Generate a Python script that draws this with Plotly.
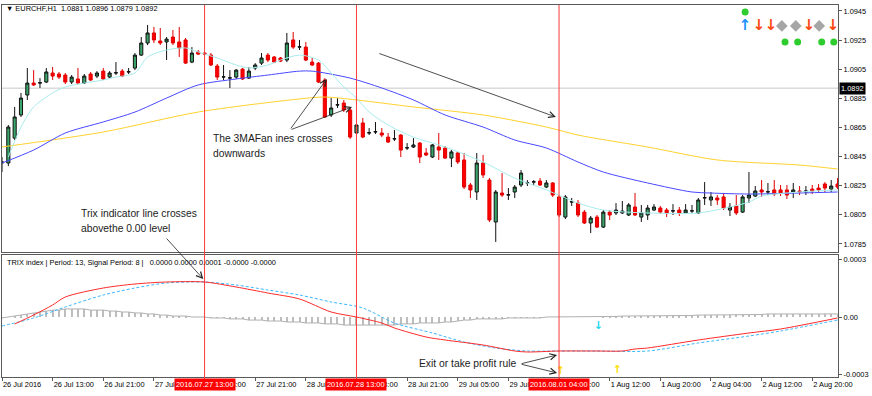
import plotly.graph_objects as go

# ---------------- data ----------------
bar_index = list(range(133))

opens = [1.08406,1.08406,1.08577,1.08736,1.08873,1.08955,1.08955,1.08962,1.09024,1.09017,
         1.09010,1.08962,1.08983,1.08955,1.09017,1.09003,1.09037,1.08996,1.09024,1.09037,
         1.09031,1.09058,1.09147,1.09230,1.09299,1.09244,1.09237,1.09271,1.09237,1.09251,
         1.09099,1.09168,1.09161,1.09147,1.09072,1.08996,1.08989,1.08996,1.09051,1.08989,
         1.09058,1.09092,1.09147,1.09134,1.09127,1.09113,1.09251,1.09202,1.09202,1.09099,
         1.09092,1.08976,1.08736,1.08804,1.08818,1.08770,1.08612,1.08681,1.08612,1.08619,
         1.08612,1.08584,1.08571,1.08598,1.08509,1.08516,1.08543,1.08475,1.08447,1.08516,
         1.08509,1.08440,1.08475,1.08427,1.08255,1.08207,1.08406,1.08289,1.08001,1.08200,
         1.08186,1.08207,1.08255,1.08269,1.08275,1.08282,1.08241,1.08269,1.08173,1.08035,
         1.08138,1.08131,1.08069,1.07994,1.08035,1.07966,1.08069,1.08063,1.08063,1.08049,
         1.08104,1.08035,1.08049,1.08083,1.08097,1.08083,1.08076,1.08083,1.08063,1.08076,
         1.08063,1.08166,1.08152,1.08166,1.08173,1.08083,1.08111,1.08069,1.08166,1.08179,
         1.08221,1.08207,1.08221,1.08221,1.08221,1.08207,1.08214,1.08207,1.08227,1.08234,
         1.08262,1.08227,1.08262]
highs = [1.08447,1.08667,1.08791,1.08887,1.09058,1.09044,1.08989,1.09058,1.09065,1.09031,
         1.09024,1.09010,1.09058,1.09017,1.09031,1.09037,1.09058,1.09037,1.09099,1.09051,
         1.09058,1.09161,1.09271,1.09354,1.09340,1.09333,1.09271,1.09319,1.09340,1.09264,
         1.09202,1.09182,1.09168,1.09161,1.09086,1.09079,1.09044,1.09051,1.09058,1.09065,
         1.09092,1.09161,1.09161,1.09141,1.09134,1.09299,1.09306,1.09251,1.09237,1.09127,
         1.09099,1.08989,1.08852,1.08852,1.08839,1.08784,1.08674,1.08715,1.08646,1.08688,
         1.08646,1.08612,1.08633,1.08605,1.08543,1.08577,1.08550,1.08509,1.08536,1.08612,
         1.08523,1.08495,1.08482,1.08475,1.08269,1.08475,1.08461,1.08303,1.08221,1.08337,
         1.08234,1.08255,1.08358,1.08289,1.08289,1.08303,1.08289,1.08275,1.08186,1.08186,
         1.08166,1.08152,1.08083,1.08042,1.08049,1.08083,1.08083,1.08131,1.08145,1.08131,
         1.08200,1.08118,1.08118,1.08124,1.08111,1.08097,1.08124,1.08104,1.08124,1.08118,
         1.08166,1.08275,1.08207,1.08186,1.08200,1.08131,1.08186,1.08186,1.08344,1.08248,
         1.08289,1.08269,1.08289,1.08255,1.08255,1.08269,1.08248,1.08248,1.08255,1.08262,
         1.08275,1.08289,1.08303]
lows = [1.08344,1.08385,1.08564,1.08722,1.08839,1.08935,1.08921,1.08955,1.08976,1.08983,
        1.08948,1.08948,1.08948,1.08948,1.08969,1.08989,1.08976,1.08989,1.09010,1.08996,
        1.09017,1.09044,1.09141,1.09216,1.09230,1.09216,1.09113,1.09216,1.09134,1.09086,
        1.09092,1.09147,1.09147,1.09072,1.08976,1.08976,1.08921,1.08983,1.08976,1.08983,
        1.09044,1.09079,1.09099,1.09092,1.09099,1.09099,1.09189,1.09182,1.09106,1.09072,
        1.08955,1.08715,1.08722,1.08784,1.08756,1.08571,1.08605,1.08577,1.08598,1.08605,
        1.08584,1.08543,1.08557,1.08447,1.08495,1.08509,1.08406,1.08454,1.08440,1.08427,
        1.08434,1.08378,1.08399,1.08227,1.08166,1.08152,1.08303,1.08001,1.07864,1.08173,
        1.08152,1.08166,1.08241,1.08248,1.08255,1.08248,1.08234,1.08173,1.08035,1.08021,
        1.08111,1.08035,1.07987,1.07925,1.07960,1.07960,1.08015,1.08049,1.08056,1.08042,
        1.08042,1.08001,1.08015,1.08076,1.08056,1.08035,1.08049,1.08042,1.08056,1.08063,
        1.08056,1.08118,1.08111,1.08118,1.08083,1.08042,1.08049,1.08063,1.08131,1.08173,
        1.08173,1.08186,1.08179,1.08179,1.08159,1.08166,1.08186,1.08186,1.08193,1.08200,
        1.08207,1.08207,1.08227]
closes = [1.08413,1.08653,1.08722,1.08852,1.08955,1.08942,1.08957,1.09031,1.09003,1.08996,
          1.08962,1.08996,1.08955,1.09003,1.08976,1.09024,1.08983,1.09024,1.09026,1.09003,
          1.09033,1.09147,1.09230,1.09299,1.09251,1.09230,1.09257,1.09230,1.09196,1.09092,
          1.09161,1.09154,1.09154,1.09079,1.08996,1.08998,1.08991,1.09044,1.08983,1.09037,
          1.09079,1.09127,1.09113,1.09099,1.09106,1.09230,1.09202,1.09204,1.09113,1.09079,
          1.08962,1.08722,1.08784,1.08806,1.08770,1.08584,1.08667,1.08584,1.08614,1.08621,
          1.08598,1.08550,1.08573,1.08495,1.08511,1.08530,1.08447,1.08461,1.08530,1.08495,
          1.08440,1.08482,1.08413,1.08241,1.08221,1.08406,1.08324,1.08015,1.08207,1.08186,
          1.08188,1.08241,1.08337,1.08271,1.08277,1.08255,1.08269,1.08186,1.08049,1.08173,
          1.08140,1.08049,1.07994,1.08028,1.07966,1.08069,1.08049,1.08083,1.08076,1.08118,
          1.08049,1.08063,1.08097,1.08104,1.08069,1.08063,1.08078,1.08063,1.08083,1.08078,
          1.08152,1.08168,1.08173,1.08152,1.08097,1.08104,1.08063,1.08173,1.08186,1.08214,
          1.08207,1.08209,1.08193,1.08200,1.08186,1.08221,1.08207,1.08214,1.08214,1.08221,
          1.08234,1.08248,1.08241]

# moving averages (read at sample bars)
fast_ma_bars = [1,3,5,8,10,13,16,18,21,23,26,29,31,34,37,39,42,44,47,50,52,54,56,58,61,65,70,76,81,86,91,95,102,110,115,118,120,126,132]
fast_ma = [1.08447,1.08653,1.08791,1.08887,1.08928,1.08955,1.08976,1.08996,1.09024,1.09134,1.09182,1.09196,1.09168,
           1.09127,1.09079,1.09058,1.09079,1.09113,1.09147,1.09113,1.09024,1.08928,1.08852,1.08756,1.08667,1.08584,
           1.08516,1.08413,1.08303,1.08221,1.08131,1.08083,1.08063,1.08063,1.08104,1.08138,1.08179,1.08207,1.08221]
mid_ma_bars = [0,5,10,16,21,26,31,37,42,47,49,55,60,65,70,76,81,86,91,95,102,109,112,118,126,132]
mid_ma = [1.08406,1.08495,1.08612,1.08688,1.08756,1.08852,1.08942,1.08983,1.09010,1.09037,1.09037,1.08989,1.08921,
          1.08839,1.08736,1.08653,1.08564,1.08509,1.08413,1.08344,1.08269,1.08207,1.08200,1.08193,1.08200,1.08207]
slow_ma_bars = [0,16,31,47,51,56,65,76,86,91,102,113,126,132]
slow_ma = [1.08516,1.08619,1.08756,1.08846,1.08859,1.08839,1.08791,1.08736,1.08653,1.08598,1.08516,1.08427,1.08392,1.08365]
current_price = 1.0892

# TRIX panel
trix_bars = [2,5,8,10,16,21,26,32,37,42,47,52,56,60,62,67,70,76,81,83,88,94,98,100,102,110,118,123,132]
trix_vals = [-0.0000365,0.0000104,0.0000626,0.0001043,0.0001513,0.0001722,0.0001826,0.0001826,0.0001565,0.0001252,
             0.0000939,0.0000261,0.0,-0.0000313,-0.0000574,-0.0001043,-0.0001200,-0.0001461,-0.0001774,-0.0001826,
             -0.0001774,-0.0001774,-0.0001774,-0.0001669,-0.0001617,-0.0001200,-0.0000835,-0.0000626,-0.0000052]
signal_bars = [0,5,10,16,21,26,32,37,42,47,52,57,62,68,73,78,83,88,94,102,110,118,123,132]
signal_vals = [-0.0000470,-0.0000052,0.0000522,0.0001148,0.0001513,0.0001774,0.0001826,0.0001669,0.0001409,0.0001148,
               0.0000783,0.0000470,-0.0000313,-0.0000835,-0.0001304,-0.0001617,-0.0001774,-0.0001774,-0.0001774,
               -0.0001774,-0.0001356,-0.0000991,-0.0000730,-0.0000157]
hist_e5 = [-0.5,0,0.5,1.0,1.6,2.1,2.6,3.1,3.6,3.6,
           4.2,4.2,4.2,4.2,3.6,3.6,3.6,3.1,3.1,2.6,
           2.6,2.1,2.1,1.6,1.6,1.0,1.0,0.5,0.5,0.5,
           0,0,0,-0.5,-0.5,-0.5,-1.0,-1.0,-1.0,-1.6,
           -1.6,-1.6,-2.1,-2.1,-2.1,-2.6,-2.6,-2.6,-3.1,-3.1,
           -3.1,-3.6,-3.6,-3.6,-4.2,-4.2,-4.2,-4.2,-4.2,-4.2,
           -4.2,-4.2,-4.2,-3.6,-3.6,-3.6,-3.1,-3.1,-3.1,-3.1,
           -2.6,-2.6,-2.1,-1.6,-1.6,-1.0,-1.0,-1.0,-1.0,-1.0,
           -0.5,-0.5,-0.5,-0.5,-0.5,-0.5,0,0,0,0,
           0,0,0,0,0,0.3,0.3,0.3,0.5,0.5,
           0.5,0.5,0.5,0.5,0.5,0.5,0.8,0.8,0.8,0.8,
           1.0,1.0,1.0,1.0,1.0,1.0,1.3,1.3,1.3,1.3,
           1.3,1.6,1.6,1.6,1.6,1.6,1.6,1.6,1.6,1.6,
           1.6,1.6,1.6]

# signal icons (top right)
dot_bars = [117.4,123.7,125.7,129.5,131.4]
dot_prices = [1.09443,1.09237,1.09237,1.09237,1.09237]
up_bars = [117.4]; up_prices = [1.09347]
down_bars = [119.6,121.5,127.5,131.3]; down_prices = [1.09347]*4
diamond_bars = [123.2,125.4,129.1]; diamond_prices = [1.09347]*3
trix_down_bars = [94.2]; trix_down_vals = [-0.000047]
trix_up_bars = [88.2,97.2]; trix_up_vals = [-0.000282,-0.000276]

# axis labels
tick_bars = [0,8,16,24,32,40,48,56,64,72,80,88,96,104,112,120,128]
tick_text = ["26 Jul 2016","26 Jul 13:00","26 Jul 21:00","27 Jul 05:00","27 Jul 13:00","27 Jul 21:00",
             "28 Jul 05:00","28 Jul 13:00","28 Jul 21:00","29 Jul 05:00","29 Jul 13:00","1 Aug 04:00",
             "1 Aug 12:00","1 Aug 20:00","2 Aug 04:00","2 Aug 12:00","2 Aug 20:00"]
event_bars = [32,56,88]
event_text = ["2016.07.27 13:00","2016.07.28 13:00","2016.08.01 04:00"]
trix_tickvals = [0.0003,0.0,-0.0003]
trix_ticktext = ["0.0003","0.00","-0.0003"]

# ---------------- figure ----------------
W, H = 872, 396
L, R, T, B = 2, 838, 5, 377
def fx(px): return (px - L) / (R - L)
def fy(py): return (B - py) / (B - T)

XR = [0, 132.07]
FONT = "Liberation Sans"
AX = "#5a5a5a"

fig = go.Figure()
fig.add_trace(go.Candlestick(
    x=bar_index, open=opens, high=highs, low=lows, close=closes,
    xaxis="x", yaxis="y", whiskerwidth=0,
    increasing=dict(line=dict(color="#111111", width=1), fillcolor="#3aa56a"),
    decreasing=dict(line=dict(color="#e00000", width=1), fillcolor="#ff0000"),
    hoverinfo="skip", showlegend=False))
for bx, vy, col in [(slow_ma_bars, slow_ma, "#ffd22e"), (mid_ma_bars, mid_ma, "#4848ff"),
                    (fast_ma_bars, fast_ma, "#a8ecec")]:
    fig.add_trace(go.Scatter(x=bx, y=vy, mode="lines", xaxis="x", yaxis="y",
                             line=dict(color=col, width=1, shape="spline", smoothing=0.8),
                             hoverinfo="skip", showlegend=False))
fig.add_trace(go.Scatter(x=dot_bars, y=dot_prices, mode="markers", xaxis="x", yaxis="y",
                         marker=dict(symbol="circle", size=7, color="#2ecc2e"), showlegend=False))
fig.add_trace(go.Scatter(x=diamond_bars, y=diamond_prices, mode="markers", xaxis="x", yaxis="y",
                         marker=dict(symbol="diamond", size=9, color="#a6a6a6"), showlegend=False))
fig.add_trace(go.Scatter(x=up_bars, y=up_prices, mode="text", text=["↑"] * len(up_bars), xaxis="x", yaxis="y",
                         textfont=dict(family="DejaVu Sans", size=15, weight="bold", color="#1e90ff"),
                         showlegend=False))
fig.add_trace(go.Scatter(x=down_bars, y=down_prices, mode="text", text=["↓"] * len(down_bars), xaxis="x", yaxis="y",
                         textfont=dict(family="DejaVu Sans", size=15, weight="bold", color="#ff4a14"),
                         showlegend=False))

# TRIX panel
fig.add_trace(go.Bar(x=bar_index, y=[v * 1e-5 for v in hist_e5], width=0.16, xaxis="x2", yaxis="y2",
                     marker=dict(color="#bdbdbd", line=dict(width=0)), hoverinfo="skip", showlegend=False))
fig.add_trace(go.Scatter(x=bar_index, y=[v * 1e-5 for v in hist_e5], mode="lines", xaxis="x2", yaxis="y2",
                         line=dict(color="#b0b0b0", width=1), hoverinfo="skip", showlegend=False))
fig.add_trace(go.Scatter(x=signal_bars, y=signal_vals, mode="lines", xaxis="x2", yaxis="y2",
                         line=dict(color="#3bb8ff", width=1, dash="3px,2px", shape="spline", smoothing=0.8),
                         hoverinfo="skip", showlegend=False))
fig.add_trace(go.Scatter(x=trix_bars, y=trix_vals, mode="lines", xaxis="x2", yaxis="y2",
                         line=dict(color="#ff2a2a", width=1, shape="spline", smoothing=0.8),
                         hoverinfo="skip", showlegend=False))
fig.add_trace(go.Scatter(x=trix_down_bars, y=trix_down_vals, mode="text", text=["↓"], xaxis="x2", yaxis="y2",
                         textfont=dict(family="DejaVu Sans", size=11, weight="bold", color="#22d8ee"),
                         showlegend=False))
fig.add_trace(go.Scatter(x=trix_up_bars, y=trix_up_vals, mode="text", text=["↑"] * 2, xaxis="x2", yaxis="y2",
                         textfont=dict(family="DejaVu Sans", size=11, weight="bold", color="#ffe000"),
                         showlegend=False))

shapes = [dict(type="line", xref="paper", x0=0, x1=1, yref="y", y0=current_price, y1=current_price,
               line=dict(color="#c8c8c8", width=1), layer="below")]
for b in event_bars:
    shapes.append(dict(type="line", xref="x", x0=b, x1=b, yref="paper", y0=fy(383), y1=1,
                       line=dict(color="#ff3b3b", width=1), layer="above"))

small = dict(family=FONT, size=7.4, color="#000000")
note = dict(family=FONT, size=10.3, color="#222222")
ann = []
ann.append(dict(xref="paper", yref="paper", x=fx(4), y=fy(8.5), xanchor="left", yanchor="middle",
                text="▼ EURCHF,H1\u00a0\u00a01.0881 1.0896 1.0879 1.0892", showarrow=False, font=small))
ann.append(dict(xref="paper", yref="paper", x=fx(5), y=fy(262), xanchor="left", yanchor="middle",
                text="TRIX index | Period: 13, Signal Period: 8 |\u00a0\u00a0 0.0000 0.0000 0.0001 -0.0000 -0.0000",
                showarrow=False, font=small))
ann.append(dict(xref="paper", yref="y", x=fx(839), y=current_price, xanchor="left", yanchor="middle",
                text="1.0892", showarrow=False, bgcolor="#000000", borderpad=1,
                font=dict(family=FONT, size=7.4, color="#ffffff")))
for b, t in zip(event_bars, event_text):
    ann.append(dict(xref="x", yref="paper", x=b, y=fy(384), xanchor="center", yanchor="middle",
                    text=t, showarrow=False, bgcolor="#ff0000", borderpad=1,
                    font=dict(family=FONT, size=7.4, color="#ffffff")))
for txt, px, py in [("The 3MAFan ines crosses", 211, 138), ("downwards", 211, 153),
                    ("Trix indicator line crosses", 79, 214), ("abovethe 0.00 level", 79, 228),
                    ("Exit or take profit rule", 417, 363)]:
    ann.append(dict(xref="paper", yref="paper", x=fx(px), y=fy(py), xanchor="left", yanchor="middle",
                    text=txt, showarrow=False, font=note))
arrow = dict(text="", showarrow=True, arrowhead=5, arrowsize=1.5, arrowwidth=0.8, arrowcolor="#222222",
             axref="pixel", ayref="pixel", standoff=0, startstandoff=0)
for xr, yr, hx, hy, ax, ay in [("x", "y", 51.3, 1.08983, -37, 51), ("x", "y", 55.3, 1.08791, -62, 23),
                               ("x", "y", 87.5, 1.08722, -178, -64),
                               ("x2", "y2", 31.8, 0.000198, -38, -42),
                               ("x2", "y2", 87.7, -0.000198, -37, 9), ("x2", "y2", 87.7, -0.000292, -37, -9)]:
    a = dict(arrow); a.update(xref=xr, yref=yr, x=hx, y=hy, ax=ax, ay=ay)
    ann.append(a)

fig.update_layout(
    width=W, height=H, margin=dict(l=L, r=W - R, t=T, b=H - B, autoexpand=False),
    paper_bgcolor="#ffffff", plot_bgcolor="#ffffff", showlegend=False,
    font=dict(family=FONT, size=7.4, color="#000000"),
    xaxis=dict(domain=[0, 1], anchor="y", range=XR, showticklabels=False, ticks="", showgrid=False,
               zeroline=False, showline=True, mirror=True, linecolor=AX, linewidth=1,
               rangeslider=dict(visible=False), fixedrange=True),
    xaxis2=dict(domain=[0, 1], anchor="y2", matches="x", range=XR, tickmode="array", tickvals=tick_bars,
                ticktext=tick_text, ticks="outside", ticklen=3, tickcolor=AX, ticklabelposition="outside right",
                tickfont=small, showgrid=False, zeroline=False, showline=True, mirror=True,
                linecolor=AX, linewidth=1, fixedrange=True),
    yaxis=dict(domain=[(B - 252) / (B - T), 1], anchor="x", side="right", range=[1.07795, 1.09491],
               tickmode="linear", tick0=1.0785, dtick=0.002, tickformat=".4f", ticks="outside", ticklen=3,
               tickcolor=AX, tickfont=small, showgrid=False, zeroline=False, showline=True, mirror=True,
               linecolor=AX, linewidth=1, fixedrange=True),
    yaxis2=dict(domain=[0, (B - 255) / (B - T)], anchor="x2", side="right", range=[-0.000313, 0.0003235],
                tickmode="array", tickvals=trix_tickvals, ticktext=trix_ticktext, ticks="outside", ticklen=3,
                tickcolor=AX, tickfont=small, showgrid=False, zeroline=False, showline=True, mirror=True,
                linecolor=AX, linewidth=1, fixedrange=True),
    shapes=shapes, annotations=ann,
)
fig.write_html("out.html", config={"displayModeBar": False},
               post_script="document.body.style.margin='0';document.body.style.padding='0';")
